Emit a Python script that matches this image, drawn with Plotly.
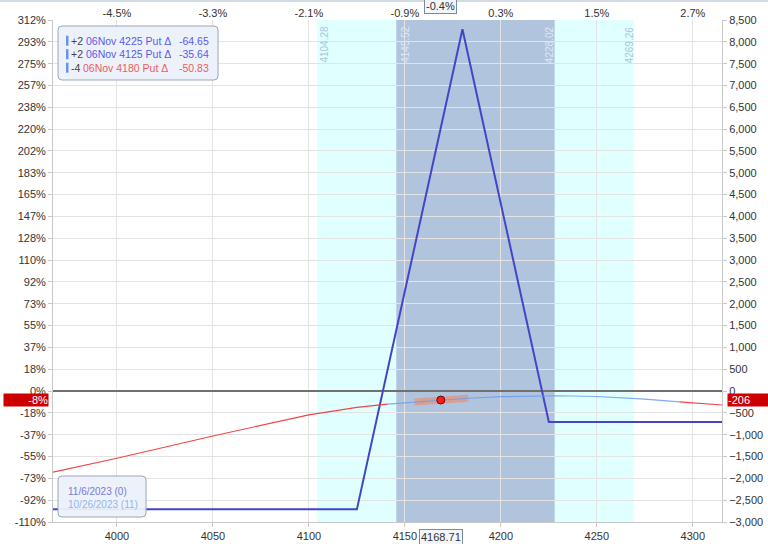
import plotly.graph_objects as go

# Expiration P&L (11/6/2023)
exp_price = [3966.7, 4125, 4180, 4225, 4315.2]
exp_pnl = [-2710, -2710, 8290, -710, -710]

# T+0 P&L (10/26/2023, 11 days)
t0_price = [3966.7, 4000, 4050, 4100, 4125, 4141, 4155, 4168.71, 4183, 4200, 4215, 4230, 4250, 4275, 4293, 4315.2]
t0_pnl = [-1856, -1540, -1030, -545, -375, -300, -250, -206, -165, -130, -112, -108, -125, -185, -250, -320]

current_price = 4168.71
current_pnl = -206

# shaded ranges
band_outer = [4104.28, 4269.26]
band_inner = [4145.52, 4228.02]

x_ticks = [4000, 4050, 4100, 4150, 4200, 4250, 4300]
top_pct = ['-4.5%', '-3.3%', '-2.1%', '-0.9%', '0.3%', '1.5%', '2.7%']
y_ticks = list(range(-3000, 8501, 500))
y_pct = ['-110%', '-92%', '-73%', '-55%', '-37%', '-18%', '0%', '18%', '37%', '55%', '73%', '92%',
         '110%', '128%', '147%', '165%', '183%', '202%', '220%', '238%', '257%', '275%', '293%', '312%']

legs = [('+2', '06Nov 4225 Put Δ', '-64.65', '#5a5aea'),
        ('+2', '06Nov 4125 Put Δ', '-35.64', '#5a5aea'),
        ('-4', '06Nov 4180 Put Δ', '-50.83', '#f05a5a')]
dates = [('11/6/2023 (0)', '#7a7ad8'), ('10/26/2023 (11)', '#94b4f2')]

W, H = 768, 544
L, R, T, B = 53, 46, 20, 22
PW, PH = W - L - R, H - T - B
FONT = 'Liberation Sans, Arial, sans-serif'


def px(x):
    return (x - L) / PW


def py(y):
    return 1 - (y - T) / PH


def rounded_box(x0, y0, x1, y1, r=4):
    rx, ry = r / PW, r / PH
    a, b, c, d = px(x0), py(y1), px(x1), py(y0)
    return (f'M{a + rx},{b} L{c - rx},{b} Q{c},{b} {c},{b + ry} L{c},{d - ry} Q{c},{d} {c - rx},{d} '
            f'L{a + rx},{d} Q{a},{d} {a},{d - ry} L{a},{b + ry} Q{a},{b} {a + rx},{b} Z')


fig = go.Figure()

fig.add_trace(go.Scatter(x=exp_price, y=exp_pnl, mode='lines',
                         line=dict(color='#4444c8', width=2), hoverinfo='skip'))

seg_left = [i for i, p in enumerate(t0_price) if p <= 4141]
seg_mid = [i for i, p in enumerate(t0_price) if 4141 <= p <= 4293]
seg_right = [i for i, p in enumerate(t0_price) if p >= 4293]
seg_band = [i for i, p in enumerate(t0_price) if 4155 <= p <= 4183]

fig.add_trace(go.Scatter(x=[t0_price[i] for i in seg_band], y=[t0_pnl[i] for i in seg_band],
                         mode='lines', line=dict(color='rgba(236,140,110,0.65)', width=7), hoverinfo='skip'))
for seg, col in [(seg_left, '#f24545'), (seg_mid, 'rgba(110,155,240,0.85)'), (seg_right, '#f24545')]:
    fig.add_trace(go.Scatter(x=[t0_price[i] for i in seg], y=[t0_pnl[i] for i in seg], mode='lines',
                             line=dict(color=col, width=1.2), hoverinfo='skip'))

fig.add_trace(go.Scatter(x=[current_price], y=[current_pnl], mode='markers',
                         marker=dict(color='#ff1a1a', size=8, line=dict(color='#5a1010', width=1)),
                         hoverinfo='skip'))

# invisible trace to activate secondary axes
fig.add_trace(go.Scatter(x=[4000], y=[0], xaxis='x2', yaxis='y2', mode='markers',
                         marker=dict(opacity=0), hoverinfo='skip'))

# shaded bands
fig.add_vrect(x0=band_outer[0], x1=band_outer[1], fillcolor='#e0ffff', line_width=0, layer='below')
fig.add_vrect(x0=band_inner[0], x1=band_inner[1], fillcolor='#b0c4de', line_width=0, layer='below')

# vertical band labels
for val, col, shift in [(band_outer[0], '#a9c6dc', 7), (band_inner[0], '#dfe8f3', 9),
                        (band_inner[1], '#dfe8f3', -5), (band_outer[1], '#a9c6dc', -4)]:
    fig.add_annotation(x=val, y=1, xref='x', yref='paper', text=f'{val:.2f}', showarrow=False,
                       textangle=-90, xanchor='center', yanchor='top', xshift=shift, yshift=-4,
                       font=dict(family=FONT, size=10, color=col))

# top strip
fig.add_shape(type='rect', xref='paper', yref='paper', x0=0 - L / PW, x1=1 + R / PW,
              y0=py(2), y1=py(0), fillcolor='#d3dbe6', line_width=0)

# position legend
fig.add_shape(type='path', xref='paper', yref='paper', path=rounded_box(58, 26, 218, 80),
              fillcolor='rgba(236,241,250,0.95)', line=dict(color='#9aa6b6', width=1))
for k, (qty, name, delta, col) in enumerate(legs):
    yy = 40.7 + k * 13.5
    fig.add_shape(type='rect', xref='paper', yref='paper', x0=px(66), x1=px(68.5),
                  y0=py(yy + 5), y1=py(yy - 5), fillcolor='#6a94e6', line_width=0)
    fig.add_annotation(x=px(68.5), y=py(yy), xref='paper', yref='paper', text=qty, showarrow=False,
                       xanchor='left', yanchor='middle', font=dict(family=FONT, size=10.5, color='#444'))
    fig.add_annotation(x=px(84 if qty.startswith('+') else 81), y=py(yy), xref='paper', yref='paper',
                       text=name, showarrow=False, xanchor='left', yanchor='middle',
                       font=dict(family=FONT, size=10.5, color=col))
    fig.add_annotation(x=px(211), y=py(yy), xref='paper', yref='paper', text=delta, showarrow=False,
                       xanchor='right', yanchor='middle', font=dict(family=FONT, size=10.5, color=col))

# date legend
fig.add_shape(type='path', xref='paper', yref='paper', path=rounded_box(58, 476, 146, 517),
              fillcolor='rgba(236,241,250,0.95)', line=dict(color='#9aa6b6', width=1))
for k, (txt, col) in enumerate(dates):
    fig.add_annotation(x=px(66), y=py(491 + k * 13), xref='paper', yref='paper', text=txt, showarrow=False,
                       xanchor='left', yanchor='middle', font=dict(family=FONT, size=10, color=col))

# current value flags
fig.add_annotation(x=0, y=current_pnl, xref='paper', yref='y', text='-8%', showarrow=False,
                   xanchor='right', yanchor='middle', xshift=-4, width=44, height=12, align='right',
                   bgcolor='#cc0000', borderpad=0, font=dict(family=FONT, size=11, color='white'))
fig.add_annotation(x=1, y=current_pnl, xref='paper', yref='y', text='-206', showarrow=False,
                   xanchor='left', yanchor='middle', xshift=5, width=41, height=12, align='left',
                   bgcolor='#cc0000', borderpad=0, font=dict(family=FONT, size=11, color='white'))
fig.add_annotation(x=current_price, y=1, xref='x', yref='paper', text='-0.4%', showarrow=False,
                   yanchor='bottom', yshift=6, bgcolor='#f2f5f9', bordercolor='#7d8a99', borderwidth=1,
                   borderpad=1, font=dict(family=FONT, size=11, color='#333'))
fig.add_annotation(x=current_price, y=0, xref='x', yref='paper', text=f'{current_price:.2f}', showarrow=False,
                   yanchor='top', yshift=-7, bgcolor='#f2f5f9', bordercolor='#7d8a99', borderwidth=1,
                   borderpad=1, font=dict(family=FONT, size=11, color='#333'))

xr = [exp_price[0], exp_price[-1]]
yr = [-3000, 8500]
axis_common = dict(tickfont=dict(family=FONT, size=11, color='#333'), linecolor='#c8c8c8',
                   tickcolor='#c8c8c8', ticklen=4, automargin=False)
fig.update_layout(
    width=W, height=H, margin=dict(l=L, r=R, t=T, b=B, autoexpand=False),
    paper_bgcolor='white', plot_bgcolor='white', showlegend=False,
    xaxis=dict(range=xr, tickvals=x_ticks, showgrid=True, gridcolor='#e3e3e3', showline=True,
               ticks='outside', zeroline=False, **axis_common),
    xaxis2=dict(range=xr, overlaying='x', side='top', tickvals=x_ticks, ticktext=top_pct,
                showgrid=False, showline=False, ticks='', zeroline=False, automargin=False,
                tickfont=dict(family=FONT, size=11, color='#333')),
    yaxis=dict(range=yr, tickvals=y_ticks, ticktext=y_pct, showgrid=True, gridcolor='#e3e3e3',
               showline=True, ticks='outside', zeroline=True, zerolinecolor='#707070', zerolinewidth=1.5,
               **axis_common),
    yaxis2=dict(range=yr, overlaying='y', side='right', tickvals=y_ticks, tickformat=',',
                showgrid=False, showline=True, ticks='outside', zeroline=False, **axis_common),
)

# page body has a default 8px margin; drop it so the figure fills the window
fig.write_html('out.html', config={'displayModeBar': False},
               post_script="document.body.style.margin='0px';")
